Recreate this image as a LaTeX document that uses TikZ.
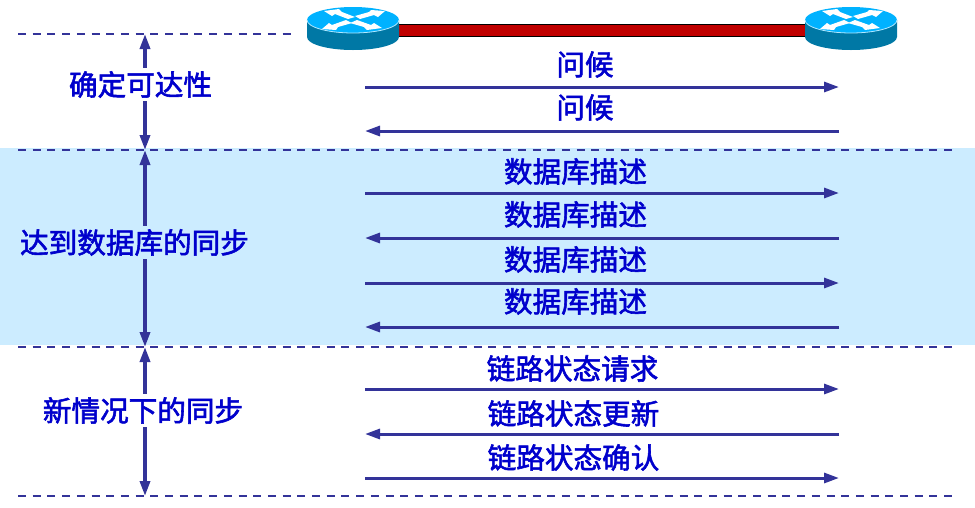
\documentclass[tikz,border=0pt]{standalone}
\usepackage{fontspec}
\setmainfont{Noto Sans CJK SC}
\newfontfamily\lblfont[FakeBold=2]{Noto Sans CJK SC}
\usetikzlibrary{arrows.meta}
\definecolor{msgblue}{RGB}{51,51,153}
\definecolor{lblblue}{RGB}{0,0,204}
\definecolor{band}{RGB}{204,236,255}
\definecolor{linkred}{RGB}{192,0,0}
\definecolor{rtop}{RGB}{0,178,255}
\definecolor{rside}{RGB}{0,120,165}
\tikzset{
    msg/.style={draw=msgblue, line width=3pt, -{Triangle[length=15pt,width=10pt]}},
    span/.style={draw=msgblue, line width=3.4pt, {Triangle[length=15pt,width=10pt]}-{Triangle[length=15pt,width=10pt]}},
    phase/.style={draw=msgblue, line width=2pt, dash pattern=on 8pt off 6.7pt},
    lbl/.style={text=lblblue, font=\lblfont\fontsize{28.6}{30}\selectfont, inner sep=0pt},
}
\newcommand{\routerat}[2]{%
    \begin{scope}[shift={(#1,#2)}]
        \fill[rside] (-46,0) -- (-46,17) arc[start angle=180,end angle=0,x radius=46,y radius=13] -- (46,0) -- cycle;
        \fill[rtop] (0,0) ellipse[x radius=46,y radius=13];
        \draw[white!70!rtop,line width=0.8pt] (-46,0) arc[start angle=180,end angle=0,x radius=46,y radius=13];
        % four small arrows on top
        \fill[white] (-29,-9) -- (-14,-11) -- (-11,-8) -- (2,-3) -- (-5,-1) -- (-18,-6) -- (-21,-4) -- cycle;
        \fill[white] (32,-9) -- (18,-10) -- (16,-8) -- (2,-4) -- (7,-1) -- (21,-5) -- (25,-3) -- cycle;
        \fill[white] (-31,9) -- (-17,10) -- (-15,7) -- (-1,3) -- (-7,0) -- (-21,5) -- (-24,3) -- cycle;
        \fill[white] (29,8) -- (14,10) -- (11,7) -- (-3,3) -- (4,0) -- (18,5) -- (21,3) -- cycle;
    \end{scope}
}
\begin{document}
\begin{tikzpicture}[x=1pt,y=-1pt]
    \useasboundingbox (0,0) rectangle (975,507);

    % Shaded phase
    \fill[band] (0,148) rectangle (975,345);

    % Routers and the link
    \draw[black,fill=linkred,line width=0.8pt] (398,24.5) rectangle (806,36);
    \routerat{353}{20}
    \routerat{851}{20}

    % Phase boundaries
    \coordinate (top a) at (18,34);
    \coordinate (top b) at (295,34);
    \coordinate (one a) at (18,150);
    \coordinate (one b) at (955,150);
    \coordinate (two a) at (18,347);
    \coordinate (two b) at (955,347);
    \coordinate (end a) at (18,496);
    \coordinate (end b) at (955,496);
    \draw[phase] (top a) -- (top b);
    \draw[phase] (one a) -- (one b);
    \draw[phase] (two a) -- (two b);
    \draw[phase] (end a) -- (end b);

    % Vertical spans
    \coordinate (span0) at (145,34);
    \coordinate (span1) at (145,150);
    \coordinate (span2) at (145,347);
    \coordinate (span3) at (145,496);
    \draw[span] (span0) -- (span1);
    \draw[span] (span1) -- (span2);
    \draw[span] (span2) -- (span3);

    % Phase names
    \node[lbl,fill=white,inner ysep=3pt] (reach) at (140.5,84.5) {确定可达性};
    \node[lbl,fill=band,inner ysep=3pt] (sync) at (134.5,242.5) {达到数据库的同步};
    \node[lbl,fill=white,inner ysep=3pt] (newsync) at (143,410.5) {新情况下的同步};

    % Message ends
    \coordinate (la) at (365,87);   \coordinate (ra) at (839,87);
    \coordinate (lb) at (365,131);  \coordinate (rb) at (839,131);
    \coordinate (lc) at (365,193);  \coordinate (rc) at (839,193);
    \coordinate (ld) at (365,238);  \coordinate (rd) at (839,238);
    \coordinate (le) at (365,283);  \coordinate (re) at (839,283);
    \coordinate (lf) at (365,327);  \coordinate (rf) at (839,327);
    \coordinate (lg) at (365,389);  \coordinate (rg) at (839,389);
    \coordinate (lh) at (365,434);  \coordinate (rh) at (839,434);
    \coordinate (li) at (365,478);  \coordinate (ri) at (839,478);

    \draw[msg] (la) -- (ra);
    \draw[msg] (rb) -- (lb);
    \draw[msg] (lc) -- (rc);
    \draw[msg] (rd) -- (ld);
    \draw[msg] (le) -- (re);
    \draw[msg] (rf) -- (lf);
    \draw[msg] (lg) -- (rg);
    \draw[msg] (rh) -- (lh);
    \draw[msg] (li) -- (ri);

    % Message names
    \node[lbl] (hello a) at (585,64.5) {问候};
    \node[lbl] (hello b) at (585,107.5) {问候};
    \node[lbl] (dd a) at (575.5,171.5) {数据库描述};
    \node[lbl] (dd b) at (575.5,214.5) {数据库描述};
    \node[lbl] (dd c) at (575.5,259.5) {数据库描述};
    \node[lbl] (dd d) at (575.5,301.5) {数据库描述};
    \node[lbl] (lsr) at (572.5,368.5) {链路状态请求};
    \node[lbl] (lsu) at (573.5,413.5) {链路状态更新};
    \node[lbl] (lsack) at (573.5,457.5) {链路状态确认};
\end{tikzpicture}
\end{document}
